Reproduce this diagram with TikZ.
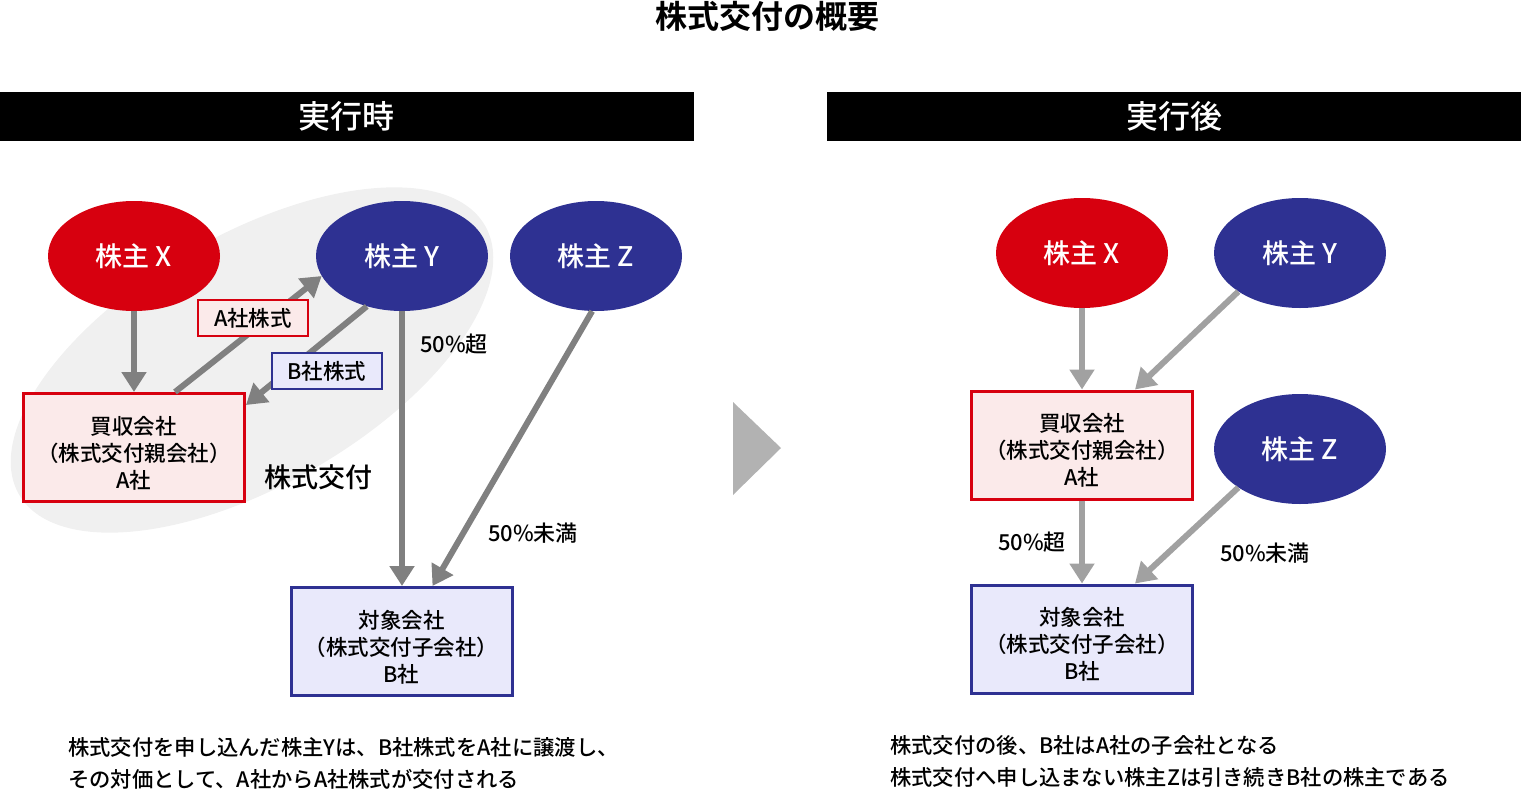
\documentclass[tikz,border=0pt]{standalone}
\usepackage{fontspec}
\setmainfont{Noto Sans CJK JP}[UprightFont=* Medium, BoldFont=* Bold]
\usetikzlibrary{arrows.meta,positioning,calc,shapes.geometric}
\definecolor{kabured}{HTML}{D7000F}
\definecolor{kabublue}{HTML}{2E3192}
\definecolor{pinkfill}{HTML}{FBEAEA}
\definecolor{lavfill}{HTML}{E9E9FB}
\definecolor{groupgray}{HTML}{F0F0F0}
\newcommand\toprule{\rule{0pt}{29pt}}

\begin{document}
\begin{tikzpicture}[x=1pt, y=-1pt,
    holder/.style={ellipse, minimum width=172pt, minimum height=110pt,
      inner sep=0, text=white, font=\fontsize{27}{27}\selectfont},
    redholder/.style={holder, fill=kabured},
    blueholder/.style={holder, fill=kabublue},
    company/.style={draw, line width=3pt, minimum width=221pt,
      minimum height=108pt, align=center,
      font=\fontsize{21.5}{27}\selectfont},
    parent/.style={company, draw=kabured, fill=pinkfill},
    child/.style={company, draw=kabublue, fill=lavfill},
    share/.style={draw, line width=1.3pt, minimum width=110pt,
      minimum height=36pt, font=\fontsize{21.5}{21.5}\selectfont},
    phasebar/.style={fill=black, text=white, minimum width=694pt,
      minimum height=49pt, inner sep=0, font=\fontsize{32}{32}\selectfont},
    pct/.style={font=\fontsize{22}{22}\selectfont},
    note/.style={anchor=west, align=left, inner sep=0,
      font=\fontsize{21.3}{32}\selectfont},
    flow/.style={line width=6pt, draw=black!50,
      -{Triangle[width=24pt,length=20pt]}},
    flowlight/.style={flow, draw=black!37}]
  \useasboundingbox (0,0) rectangle (1521,790);

  \node[font=\bfseries\fontsize{32}{32}\selectfont] (title) at (767,16) {株式交付の概要};
  \node[phasebar] (barl) at (346.5,116.5) {実行時};
  \node[phasebar] (barr) at (1174,116.5) {実行後};

  \node[ellipse, fill=groupgray, minimum width=538pt, minimum height=250pt,
    rotate=30] (grp) at (252,360) {};

  \node[redholder] (xl) at (134,256) {株主 X};
  \node[blueholder] (yl) at (402,256) {株主 Y};
  \node[blueholder] (zl) at (596,256) {株主 Z};
  \node[parent] (buyl) at (134,447.5) {\toprule 買収会社\\（株式交付親会社）\\A社};
  \node[child] (tgtl) at (401.5,641.5) {\toprule 対象会社\\（株式交付子会社）\\B社};

  \draw[flow] (xl) -- (buyl);
  \draw[flow] ([xshift=41pt]buyl.north) -- (yl.194);
  \draw[flow] (yl.235) -- ([yshift=-13pt]buyl.north east);
  \draw[flow] (yl.south) -- (yl.south |- tgtl.north);
  \draw[flow] (zl.266) -- ([xshift=31pt]tgtl.north);

  \node[share, draw=kabured, fill=pinkfill] (ashare) at (253,318) {A社株式};
  \node[share, draw=kabublue, fill=lavfill] (bshare) at (327,371) {B社株式};
  \node[font=\fontsize{27}{27}\selectfont] (exch) at (318,477) {株式交付};
  \node[pct] (pyl) at (454,344) {50\%超};
  \node[pct] (pzl) at (533,533) {50\%未満};

  \fill[black!30] (733,402) -- (733,495) -- (781,448) -- cycle;

  \node[redholder] (xr) at (1082,253) {株主 X};
  \node[blueholder] (yr) at (1300,253) {株主 Y};
  \node[blueholder] (zr) at (1300,449) {株主 Z};
  \node[parent] (buyr) at (1082,445) {\toprule 買収会社\\（株式交付親会社）\\A社};
  \node[child] (tgtr) at (1082,639) {\toprule 対象会社\\（株式交付子会社）\\B社};

  \draw[flowlight] (xr) -- (buyr);
  \draw[flowlight] (yr.212) -- ([xshift=53pt]buyr.north);
  \draw[flowlight] (buyr) -- (tgtr);
  \draw[flowlight] (zr.212) -- ([xshift=53pt]tgtr.north);

  \node[pct] (pbr) at (1032,542) {50\%超};
  \node[pct] (pzr) at (1265,553) {50\%未満};

  \node[note] (notel) at (68,763) {株式交付を申し込んだ株主Yは、B社株式をA社に譲渡し、\\その対価として、A社からA社株式が交付される};
  \node[note] (noter) at (890,761) {株式交付の後、B社はA社の子会社となる\\株式交付へ申し込まない株主Zは引き続きB社の株主である};
\end{tikzpicture}
\end{document}
